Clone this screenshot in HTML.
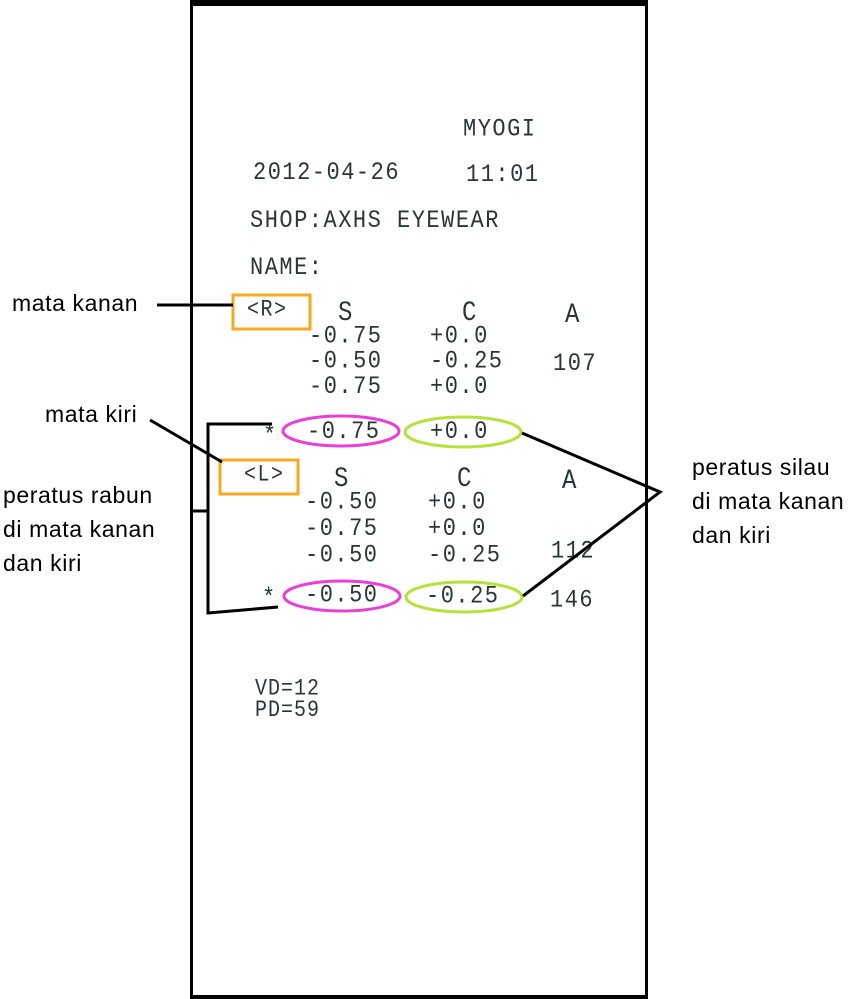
<!DOCTYPE html>
<html><head><meta charset="utf-8"><style>
body{margin:0;width:864px;height:998px;background:#fff;position:relative;overflow:hidden}
.r{position:absolute;left:190px;top:0;width:452px;height:989px;border:3px solid #000;border-top-width:6px;border-bottom-width:4px}
.m{position:absolute;font-family:"Liberation Mono",monospace;color:#2a3535;font-size:22px;white-space:pre;line-height:1;letter-spacing:1.5px;transform:scaleY(1.15);transform-origin:0 50%}
.l{position:absolute;font-family:"Liberation Sans",sans-serif;color:#000;font-size:23px;letter-spacing:0.6px;line-height:1;white-space:pre}
svg{position:absolute;left:0;top:0}
</style></head><body>
<div class="r"></div>
<div class="m" style="left:463px;top:119px">MYOGI</div>
<div class="m" style="left:253px;top:162px">2012-04-26</div>
<div class="m" style="left:466px;top:164px">11:01</div>
<div class="m" style="left:250px;top:210px">SHOP:AXHS EYEWEAR</div>
<div class="m" style="left:250px;top:257px">NAME:</div>
<div class="m" style="left:247px;top:301px;font-size:20px;letter-spacing:1.5px">&lt;R&gt;</div>
<div class="m" style="left:338px;top:302px;font-size:24px">S</div>
<div class="m" style="left:462px;top:302px;font-size:24px">C</div>
<div class="m" style="left:565px;top:304px;font-size:24px">A</div>
<div class="m" style="left:309px;top:329px;line-height:22px">-0.75
-0.50
-0.75</div>
<div class="m" style="left:430px;top:329px;line-height:22px">+0.0
-0.25
+0.0</div>
<div class="m" style="left:553px;top:353px">107</div>
<div class="m" style="left:263px;top:425px">*</div>
<div class="m" style="left:307px;top:421px">-0.75</div>
<div class="m" style="left:430px;top:421px">+0.0</div>
<div class="m" style="left:244px;top:466px;font-size:20px;letter-spacing:1.5px">&lt;L&gt;</div>
<div class="m" style="left:334px;top:468px;font-size:24px">S</div>
<div class="m" style="left:457px;top:468px;font-size:24px">C</div>
<div class="m" style="left:562px;top:470px;font-size:24px">A</div>
<div class="m" style="left:305px;top:494px;line-height:23px">-0.50
-0.75
-0.50</div>
<div class="m" style="left:428px;top:494px;line-height:23px">+0.0
+0.0
-0.25</div>
<div class="m" style="left:551px;top:541px">112</div>
<div class="m" style="left:262px;top:588px">*</div>
<div class="m" style="left:305px;top:585px">-0.50</div>
<div class="m" style="left:426px;top:586px">-0.25</div>
<div class="m" style="left:550px;top:590px">146</div>
<div class="m" style="left:255px;top:681px;line-height:19px;font-size:20px;letter-spacing:1px">VD=12
PD=59</div>
<svg width="864" height="998">
<rect x="233" y="295" width="77" height="34" fill="none" stroke="#f7a823" stroke-width="3"/>
<rect x="220" y="460" width="78" height="34" fill="none" stroke="#f7a823" stroke-width="3"/>
<ellipse cx="341" cy="431" rx="58" ry="15" fill="none" stroke="#e83fd6" stroke-width="3"/>
<ellipse cx="463" cy="432" rx="58" ry="15" fill="none" stroke="#b4e23b" stroke-width="3"/>
<ellipse cx="342" cy="596" rx="58" ry="15" fill="none" stroke="#e83fd6" stroke-width="3"/>
<ellipse cx="464" cy="597" rx="58" ry="15" fill="none" stroke="#b4e23b" stroke-width="3"/>
<g stroke="#000" stroke-width="3" fill="none">
<line x1="157" y1="305" x2="233" y2="305"/>
<line x1="150" y1="420" x2="222" y2="462"/>
<polyline points="272,424 208,424 208,613 278,607"/>
<line x1="190" y1="511" x2="208" y2="511"/>
<polyline points="522,433 660,492 523,596"/>
</g>
</svg>
<div class="l" style="left:12px;top:292px">mata kanan</div>
<div class="l" style="left:45px;top:403px">mata kiri</div>
<div class="l" style="left:3px;top:478px;line-height:34px">peratus rabun
di mata kanan
dan kiri</div>
<div class="l" style="left:692px;top:450px;line-height:34px">peratus silau
di mata kanan
dan kiri</div>
</body></html>
